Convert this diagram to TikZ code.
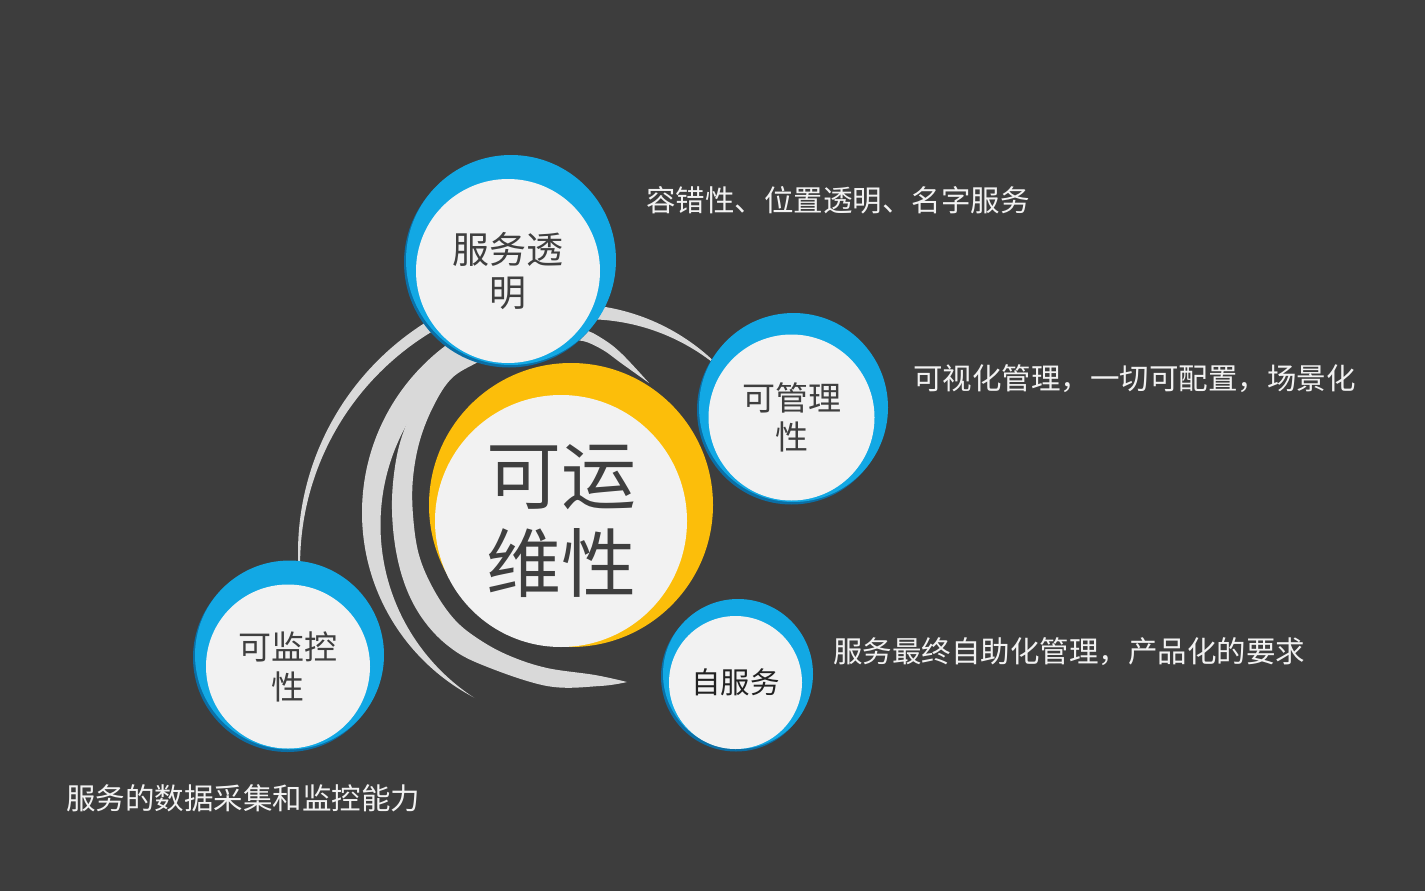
\documentclass[tikz,border=0pt]{standalone}
\usepackage{fontspec}
\newfontfamily\cjk{Noto Sans CJK SC}
\usetikzlibrary{calc}
\definecolor{bg}{HTML}{3D3D3D}
\definecolor{skyblue}{HTML}{12A8E4}
\definecolor{rimblue}{HTML}{0B6FA6}
\definecolor{disk}{HTML}{F2F2F2}
\definecolor{gold}{HTML}{FCBE0A}
\definecolor{arcgrey}{HTML}{D9D9D9}
\definecolor{ink}{HTML}{3F3F3F}
\definecolor{darkink}{HTML}{222222}
\definecolor{paper}{HTML}{F2F2F2}
\begin{document}
\begin{tikzpicture}[x=1pt,y=1pt,
  ring/.style={circle, fill=skyblue, inner sep=0pt, outer sep=0pt},
  rim/.style={circle, fill=rimblue, inner sep=0pt, outer sep=0pt},
  face/.style={circle, fill=disk, inner sep=0pt, outer sep=0pt, align=center, text=ink},
  desc/.style={anchor=west, inner sep=0pt, text=paper, font=\cjk\fontsize{29.5}{35}\selectfont},
]
\fill[bg] (0,0) rectangle (1425,-891);
\useasboundingbox (0,0) rectangle (1425,-891);

% ---- big outer arc (left) ----
\begin{scope}[even odd rule]
  \clip (570,-553) -- ($(570,-553)+(100:420pt)$) -- ($(570,-553)+(150:420pt)$) -- ($(570,-553)+(200:420pt)$) -- cycle;
  \clip (-10,10) rectangle (1435,-901) (572.1,-564.8) circle[radius=272pt];
  \fill[arcgrey] (570,-553) circle[radius=272pt];
\end{scope}

% ---- middle arc (left, continuing to the right) ----
\begin{scope}[even odd rule]
  \clip (-10,10) rectangle (1435,-901) (586.4,-525.1) circle[radius=205.9pt];
  \fill[arcgrey] (570.5,-512.6) circle[radius=208.5pt];
\end{scope}

% ---- inner wide arc ----
\fill[arcgrey] plot[smooth, tension=0.6] coordinates {(475,-345) (455,-352) (438,-368) (423,-390) (408,-420) (397,-455) (392,-500) (395,-545) (405,-585) (422,-618) (447,-645) (480,-664) (547,-686) (600,-686) (627,-682)}
  -- plot[smooth, tension=0.6] coordinates {(627,-682) (595,-675) (547,-668) (510,-656) (480,-640) (455,-620) (434,-590) (419,-555) (413,-515) (413,-478) (420,-440) (434,-405) (452,-378) (478,-362) (500,-350)} -- cycle;

% ---- small arc right of top circle ----
\fill[arcgrey] plot[smooth, tension=0.6] coordinates {(560,-336) (583,-330) (603,-339) (622,-354) (649,-383)}
  -- plot[smooth, tension=0.6] coordinates {(649,-383) (621,-363) (603,-350) (583,-341) (565,-342)} -- cycle;

% ---- centre ----
\node[circle, fill=gold, inner sep=0pt, outer sep=0pt, minimum size=284pt] (hub) at (571,-505) {};
\node[face, minimum size=252pt, font=\cjk\fontsize{75}{88}\selectfont] (hubtext) at (561,-521) {可运\\维性};

% ---- 服务透明 ----
\node[rim, minimum size=210pt] (rimA) at (509,-262.5) {};
\node[ring, minimum size=210pt] (ringA) at (511,-260) {};
\node[face, minimum size=184pt, font=\cjk\fontsize{37}{43.5}\selectfont] (faceA) at (508,-271) {服务透\\明};

% ---- 可管理性 ----
\node[rim, minimum size=189pt] (rimB) at (791.5,-410) {};
\node[ring, minimum size=189pt] (ringB) at (793.5,-407.5) {};
\node[face, minimum size=166pt, font=\cjk\fontsize{33}{39.5}\selectfont] (faceB) at (791.5,-417.5) {可管理\\性};

% ---- 自服务 ----
\node[rim, minimum size=150pt] (rimC) at (736,-676.5) {};
\node[ring, minimum size=150pt] (ringC) at (738,-674) {};
\node[face, minimum size=133pt, text=darkink, font=\cjk\fontsize{29.5}{35}\selectfont] (faceC) at (735.5,-682.5) {自服务};

% ---- 可监控性 ----
\node[rim, minimum size=189pt] (rimD) at (287.5,-657.5) {};
\node[ring, minimum size=189pt] (ringD) at (289.5,-655) {};
\node[face, minimum size=164pt, font=\cjk\fontsize{33}{40}\selectfont] (faceD) at (288,-666.5) {可监控\\性};

% ---- descriptions ----
\node[desc] (descA) at (646,-200) {容错性、位置透明、名字服务};
\node[desc] (descB) at (913,-379) {可视化管理，一切可配置，场景化};
\node[desc] (descC) at (833,-652) {服务最终自助化管理，产品化的要求};
\node[desc] (descD) at (66,-798) {服务的数据采集和监控能力};
\end{tikzpicture}
\end{document}
